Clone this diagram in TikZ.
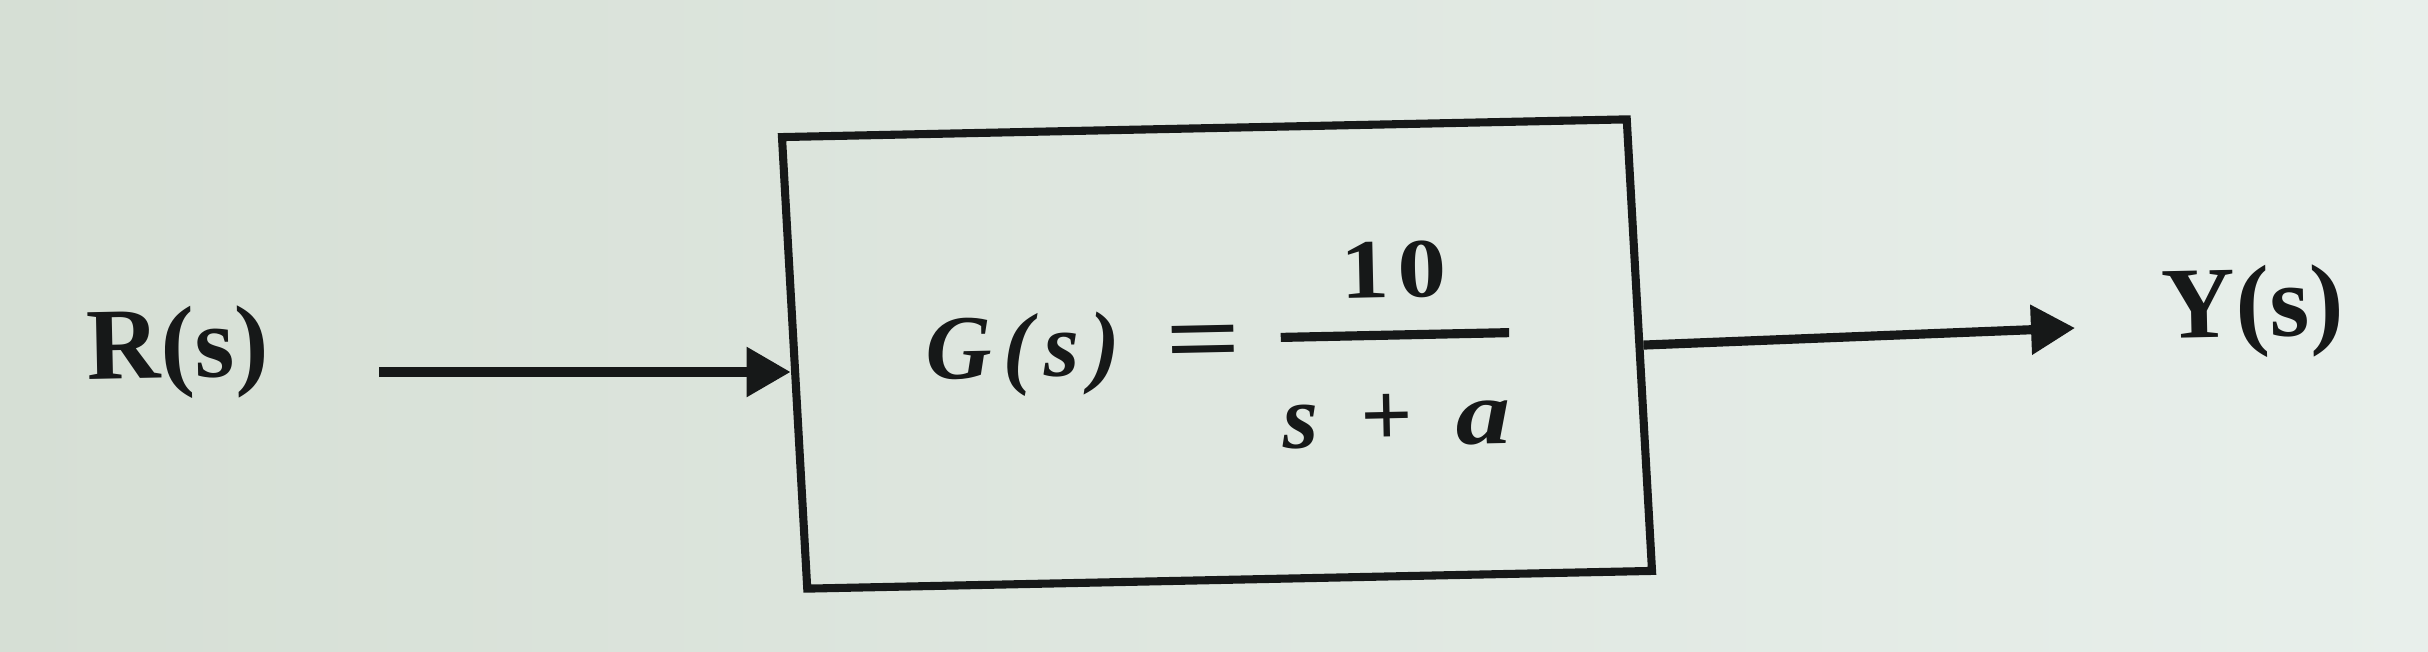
\documentclass[tikz,border=0pt]{standalone}
\usepackage{fontspec}
\usepackage{graphicx}
\setmainfont{Liberation Serif}
\usetikzlibrary{arrows.meta}
\definecolor{ink}{RGB}{22,24,24}
\definecolor{bgL}{RGB}{214,223,213}
\definecolor{bgR}{RGB}{232,239,235}
\newcommand{\transferfn}{{\bfseries$\displaystyle
  \lower3.5pt\hbox{\itshape G\kern3pt(\kern3pt s\kern3pt)\kern13pt\upshape\scalebox{1.45}[1.1]{=}\kern10pt}
  {\hbox{\fontsize{24}{28}\selectfont\scalebox{1.15}[1]{1\kern2pt0}}\above 2.6pt
   \hbox to 65pt{\vrule height 22.5pt depth 0pt width 0pt\itshape s\/\hfil\upshape+\hfil\itshape\scalebox{1.2}[1]{a}}}$}}
\begin{document}
\begin{tikzpicture}[x=0.1mm,y=-0.1mm,
  block/.style={draw=ink, line width=2.3pt, minimum width=84.5mm, minimum height=45.2mm, rotate=1.2, xslant=-0.035, inner sep=0pt},
  lbl/.style={text=ink, font=\fontsize{29}{34}\selectfont\bfseries, rotate=1.2, inner sep=0pt},
  eqstyle/.style={text=ink, font=\fontsize{26}{31}\selectfont, rotate=1.2, inner sep=0pt},
  sig/.style={draw=ink, line width=2.6pt, -{Triangle[length=4.4mm,width=4.8mm]}}]
\shade[left color=bgL, right color=bgR] (0,0) rectangle (2428,652);
\useasboundingbox (0,0) rectangle (2428,652);
\node[block] (G) at (1217,354) {};
\node[eqstyle] (tf) at (1220,348) {\transferfn};
\node[lbl] (R) at (178,353) {R(s)};
\node[lbl] (Y) at (2253,312) {Y(s)};
\coordinate (inS) at (379,372);
\coordinate (outE) at (2075,328);
\draw[sig] (inS) -- (G.west |- inS);
\draw[sig] (G.east) -- (outE);
\end{tikzpicture}
\end{document}
